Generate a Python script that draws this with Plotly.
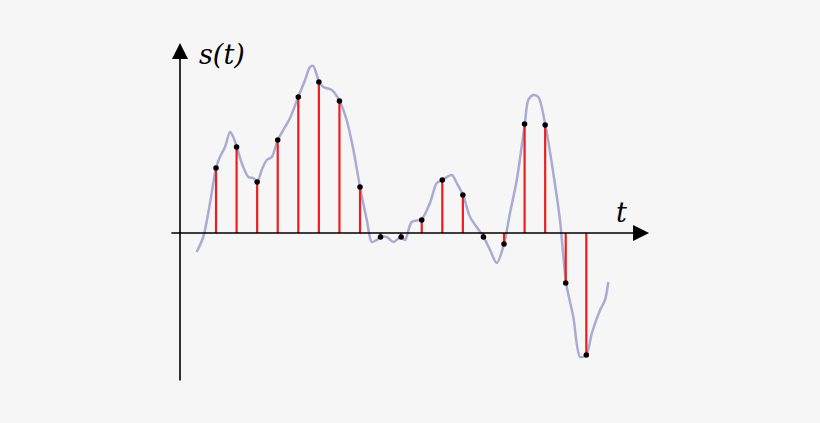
import plotly.graph_objects as go

# continuous signal (t in sample periods, s in arbitrary units)
curve_t = [0.06, 0.38, 0.71, 1.0, 1.19, 1.44, 1.68, 1.84, 2.01, 2.25, 2.57, 2.81, 3.01,
           3.22, 3.47, 3.71, 4.0, 4.27, 4.6, 5.0, 5.33, 5.57, 5.73, 5.9, 6.01, 6.22,
           6.63, 7.01, 7.35, 7.68, 8.0, 8.33, 8.57, 8.81, 9.01, 9.3, 9.62, 9.99, 10.19,
           10.51, 11.0, 11.4, 11.73, 12.0, 12.46, 12.7, 13.01, 13.35, 14.01, 14.32,
           14.65, 15.0, 15.29, 15.62, 16.01, 16.18, 16.43, 16.67, 17.01, 17.32, 17.72,
           18.02, 18.37, 18.7, 19.0, 19.27, 19.67, 19.91, 20.07]
curve_s = [-1.9, -0.4, 3.0, 6.5, 7.6, 8.6, 10.1, 9.6, 8.6, 7.0, 5.6, 5.5, 5.1,
           6.3, 7.3, 7.6, 9.3, 10.3, 11.5, 13.6, 15.3, 16.6, 16.7, 15.8, 15.1, 14.6,
           14.3, 13.2, 11.3, 8.3, 4.6, 1.3, -0.9, -0.7, -0.4, -0.4, -0.9, -0.4, -0.7,
           1.1, 1.4, 3.0, 5.0, 5.3, 5.8, 5.0, 3.8, 1.6, -0.4, -1.7,
           -3.0, -1.1, 2.0, 5.3, 10.9, 13.3, 13.8, 13.6, 10.8, 7.0, 1.3,
           -5.0, -8.4, -12.4, -12.2, -10.0, -7.7, -6.7, -4.9]

# samples
sample_t = list(range(1, 20))
sample_s = [6.5, 8.6, 5.1, 9.3, 13.6, 15.1, 13.2, 4.6, -0.4, -0.4, 1.3, 5.3, 3.8,
            -0.4, -1.1, 10.9, 10.8, -5.0, -12.2]

stem_x, stem_y = [], []
for t, s in zip(sample_t, sample_s):
    stem_x += [t, t, None]
    stem_y += [0, s, None]

fig = go.Figure()

fig.add_trace(go.Scatter(
    x=curve_t, y=curve_s, mode="lines",
    line=dict(color="#aaaad4", width=2.5, shape="spline", smoothing=0.8),
    hoverinfo="skip",
))

fig.add_trace(go.Scatter(
    x=stem_x, y=stem_y, mode="lines",
    line=dict(color="#ee1c1c", width=2.2),
    hoverinfo="skip",
))

fig.add_trace(go.Scatter(
    x=sample_t, y=sample_s, mode="markers",
    marker=dict(color="black", size=5.5),
    hoverinfo="skip",
))

arrow = dict(showarrow=True, arrowhead=2, arrowsize=2.0, arrowwidth=1.6,
             arrowcolor="black", axref="x", ayref="y", xref="x", yref="y", text="")

fig.update_layout(
    width=820, height=423,
    margin=dict(l=0, r=0, t=0, b=0),
    paper_bgcolor="#f6f6f6",
    plot_bgcolor="#f6f6f6",
    showlegend=False,
    xaxis=dict(range=[-9.5, 30.36], visible=False),
    yaxis=dict(range=[-19.0, 23.3], visible=False),
    annotations=[
        dict(x=-0.75, y=19.0, ax=-0.75, ay=-14.9, **arrow),
        dict(x=22.05, y=0, ax=-1.24, ay=0, **arrow),
        dict(x=1.3, y=17.9, text="<i>s(t)</i>", showarrow=False,
             xref="x", yref="y",
             font=dict(family="DejaVu Serif", size=27, color="black")),
        dict(x=20.7, y=2.1, text="<i>t</i>", showarrow=False,
             xref="x", yref="y",
             font=dict(family="DejaVu Serif", size=27, color="black")),
    ],
)

fig.write_html(
    "out.html",
    config={"displayModeBar": False},
    post_script="document.body.style.margin='0';"
                "document.body.style.background='#f6f6f6';",
)
